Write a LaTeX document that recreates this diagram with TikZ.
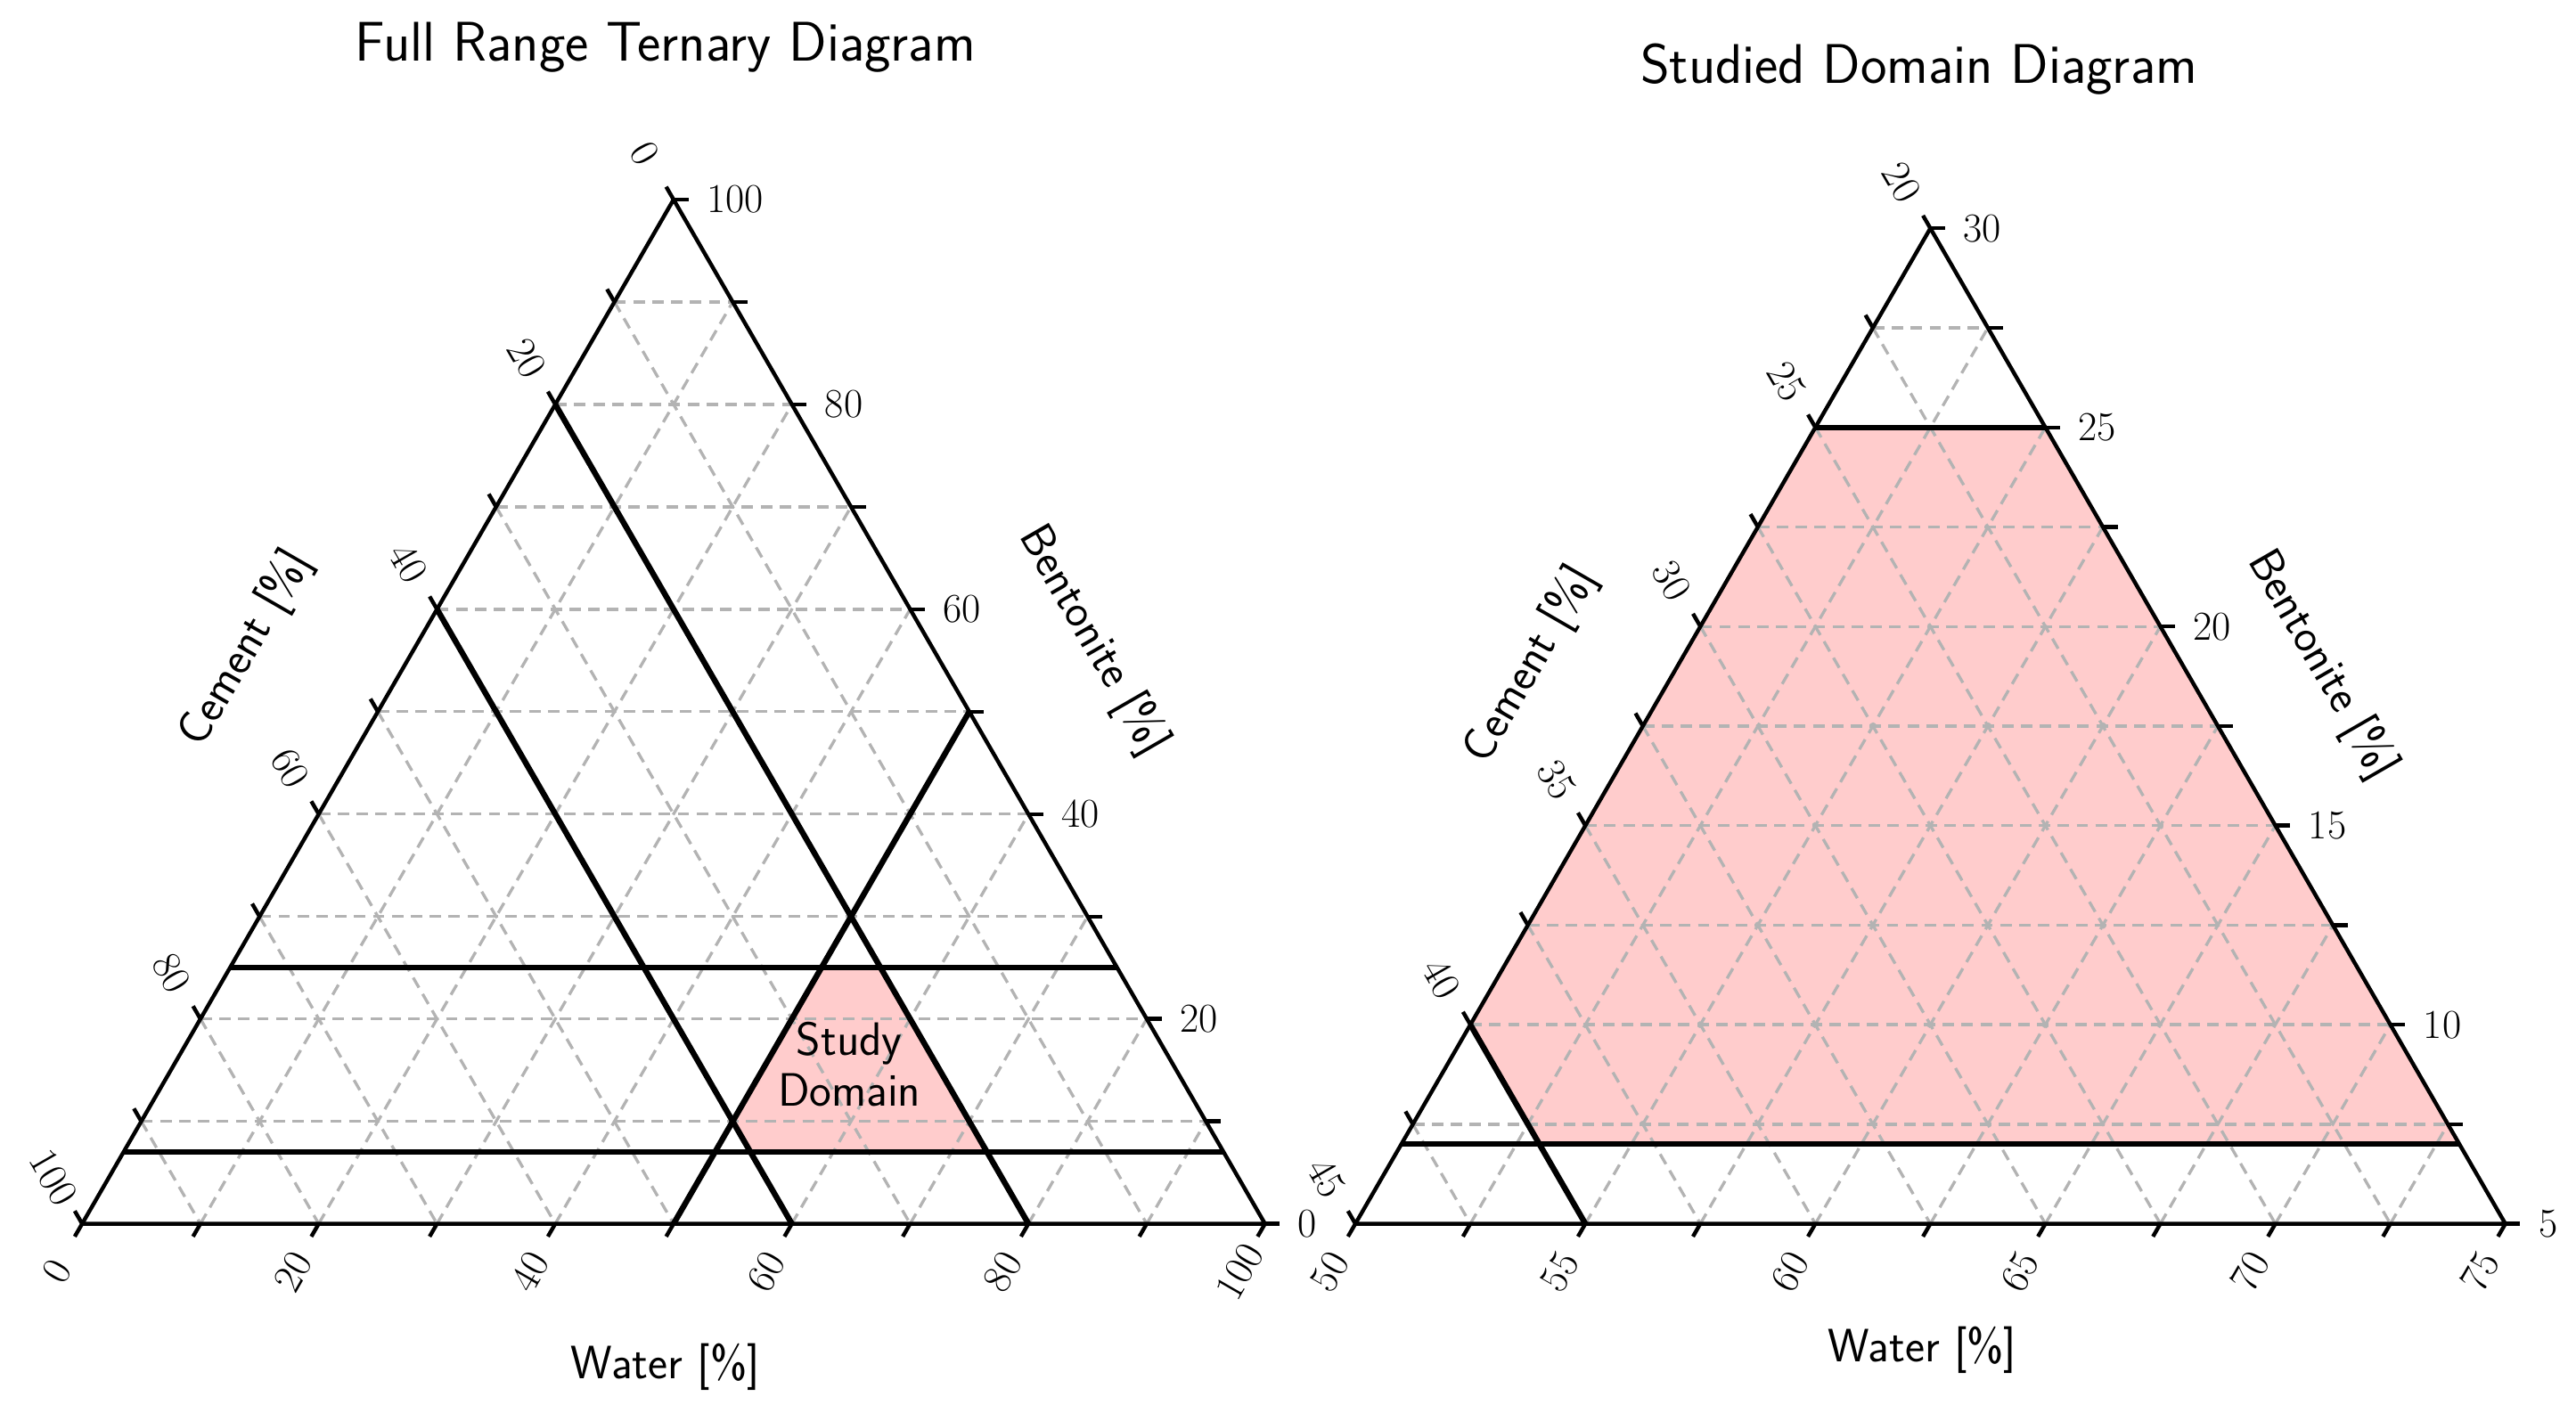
\documentclass[tikz,border=0pt]{standalone}
\usepackage{fontspec}
\usetikzlibrary{calc}
\definecolor{pinkfill}{HTML}{FFCCCC}
\definecolor{gridgray}{HTML}{B3B3B3}
\tikzset{
  gridline/.style={gridgray,line width=1.8pt,dash pattern=on 7pt off 4.5pt},
  thickline/.style={black,line width=3.5pt},
  outline/.style={black,line width=2.4pt,line join=round},
  tickline/.style={black,line width=2.4pt},
  ticklab/.style={font=\fontsize{25}{28}\selectfont,inner sep=0pt},
  axlab/.style={font=\sffamily\fontsize{28.5}{31}\selectfont},
  titlelab/.style={font=\sffamily\fontsize{34}{38}\selectfont}
}
\begin{document}
\begin{tikzpicture}[x=1pt,y=1pt]
\useasboundingbox (0,0) rectangle (1568,860);
% ---------- left triangle ----------
\coordinate (L1) at (50,115);
\coordinate (R1) at (770,115);
\coordinate (A1) at (410,738.5);
\fill[pinkfill] (barycentric cs:R1=.55,A1=.25,L1=.20) -- (barycentric cs:R1=.73,A1=.07,L1=.20)
  -- (barycentric cs:R1=.53,A1=.07,L1=.40) -- (barycentric cs:R1=.50,A1=.10,L1=.40)
  -- (barycentric cs:R1=.50,A1=.25,L1=.25) -- cycle;
\foreach \i in {1,...,9}{
  \pgfmathsetmacro\t{\i/10}\pgfmathsetmacro\u{1-\t}
  \draw[gridline] (barycentric cs:L1=\u,A1=\t) -- (barycentric cs:R1=\u,A1=\t);
  \draw[gridline] (barycentric cs:L1=\t,A1=\u) -- (barycentric cs:L1=\t,R1=\u);
  \draw[gridline] (barycentric cs:R1=\t,L1=\u) -- (barycentric cs:R1=\t,A1=\u);
}
\foreach \i in {0,...,10}{
  \pgfmathsetmacro\t{\i/10}\pgfmathsetmacro\u{1-\t}
  \draw[tickline] (barycentric cs:R1=\u,A1=\t) -- ++(0:9);
  \draw[tickline] (barycentric cs:L1=\t,A1=\u) -- ++(120:9);
  \draw[tickline] (barycentric cs:R1=\t,L1=\u) -- ++(240:9);
}
\foreach \i in {0,2,...,10}{
  \pgfmathsetmacro\t{\i/10}\pgfmathsetmacro\u{1-\t}
  \pgfmathtruncatemacro\v{10*\i}
  \node[ticklab,anchor=west] (rb1\i) at ($(barycentric cs:R1=\u,A1=\t)+(20,0)$) {\v};
  \node[ticklab,rotate=-60] (lc1\i) at ($(barycentric cs:L1=\t,A1=\u)+(122:33)$) {\v};
  \node[ticklab,rotate=60] (bw1\i) at ($(barycentric cs:R1=\t,L1=\u)+(242:33)$) {\v};
}
\draw[thickline] (barycentric cs:L1=.2,A1=.8) -- (barycentric cs:L1=.2,R1=.8);
\draw[thickline] (barycentric cs:L1=.4,A1=.6) -- (barycentric cs:L1=.4,R1=.6);
\draw[thickline] (barycentric cs:R1=.5,L1=.5) -- (barycentric cs:R1=.5,A1=.5);
\draw[thickline] (barycentric cs:L1=.75,A1=.25) -- (barycentric cs:R1=.75,A1=.25);
\draw[thickline] (barycentric cs:L1=.93,A1=.07) -- (barycentric cs:R1=.93,A1=.07);
\draw[outline] (L1) -- (R1) -- (A1) -- cycle;
\node[axlab,align=center] (sd) at (517,212) {Study\\Domain};
\node[axlab,rotate=60] (cl1) at (150,465) {Cement [\%]};
\node[axlab,rotate=-60] (bl1) at (665,470) {Bentonite [\%]};
\node[axlab] (wl1) at (405,28) {Water [\%]};
\node[titlelab] (t1) at (405,831) {Full Range Ternary Diagram};
% ---------- right triangle ----------
\coordinate (L2) at (825,115);
\coordinate (R2) at (1525,115);
\coordinate (A2) at (1175,721);
\fill[pinkfill] (barycentric cs:R2=.20,A2=.80,L2=0) -- (barycentric cs:R2=.92,A2=.08,L2=0)
  -- (barycentric cs:R2=.12,A2=.08,L2=.80) -- (barycentric cs:R2=0,A2=.20,L2=.80)
  -- (barycentric cs:R2=0,A2=.80,L2=.20) -- cycle;
\foreach \i in {1,...,9}{
  \pgfmathsetmacro\t{\i/10}\pgfmathsetmacro\u{1-\t}
  \draw[gridline] (barycentric cs:L2=\u,A2=\t) -- (barycentric cs:R2=\u,A2=\t);
  \draw[gridline] (barycentric cs:L2=\t,A2=\u) -- (barycentric cs:L2=\t,R2=\u);
  \draw[gridline] (barycentric cs:R2=\t,L2=\u) -- (barycentric cs:R2=\t,A2=\u);
}
\foreach \i in {0,...,10}{
  \pgfmathsetmacro\t{\i/10}\pgfmathsetmacro\u{1-\t}
  \draw[tickline] (barycentric cs:R2=\u,A2=\t) -- ++(0:9);
  \draw[tickline] (barycentric cs:L2=\t,A2=\u) -- ++(120:9);
  \draw[tickline] (barycentric cs:R2=\t,L2=\u) -- ++(240:9);
}
\foreach \i in {0,2,...,10}{
  \pgfmathsetmacro\t{\i/10}\pgfmathsetmacro\u{1-\t}
  \pgfmathtruncatemacro\vb{5+2.5*\i}
  \pgfmathtruncatemacro\vc{20+2.5*\i}
  \pgfmathtruncatemacro\vw{50+2.5*\i}
  \node[ticklab,anchor=west] (rb2\i) at ($(barycentric cs:R2=\u,A2=\t)+(20,0)$) {\vb};
  \node[ticklab,rotate=-60] (lc2\i) at ($(barycentric cs:L2=\t,A2=\u)+(122:33)$) {\vc};
  \node[ticklab,rotate=60] (bw2\i) at ($(barycentric cs:R2=\t,L2=\u)+(242:33)$) {\vw};
}
\draw[thickline] (barycentric cs:L2=.2,A2=.8) -- (barycentric cs:R2=.2,A2=.8);
\draw[thickline] (barycentric cs:L2=.92,A2=.08) -- (barycentric cs:R2=.92,A2=.08);
\draw[thickline] (barycentric cs:L2=.8,A2=.2) -- (barycentric cs:L2=.8,R2=.2);
\draw[outline] (L2) -- (R2) -- (A2) -- cycle;
\node[axlab,rotate=60] (cl2) at (932,455) {Cement [\%]};
\node[axlab,rotate=-60] (bl2) at (1413,455) {Bentonite [\%]};
\node[axlab] (wl2) at (1170,38) {Water [\%]};
\node[titlelab] (t2) at (1168,818) {Studied Domain Diagram};
\end{tikzpicture}
\end{document}
